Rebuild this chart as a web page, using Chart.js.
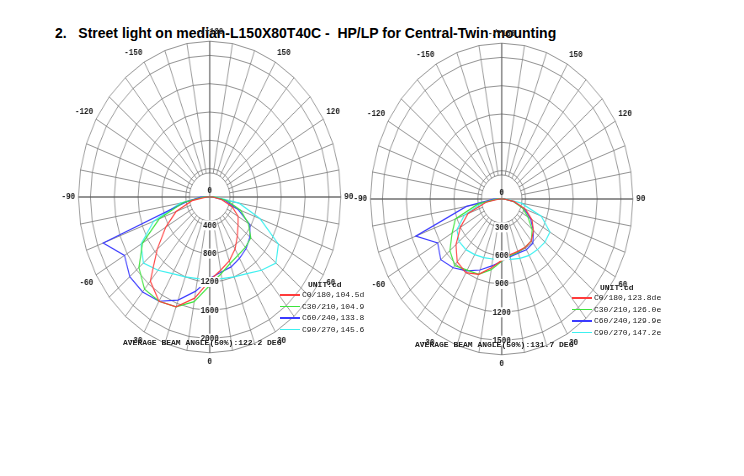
<!DOCTYPE html>
<html><head><meta charset="utf-8">
<script src="https://cdn.jsdelivr.net/npm/chart.js@4"></script>
<style>
body{margin:0;width:744px;height:476px;background:#fff;position:relative;overflow:hidden;font-family:"Liberation Mono","DejaVu Sans Mono",monospace}
#title{position:absolute;left:55px;top:25px;font:bold 14px "Liberation Sans",Arial,sans-serif;color:#000;white-space:pre}
.wrap{position:absolute;width:356px;height:356px;transform-origin:center;transform:scaleX(0.842)}
.txt{position:absolute;font-size:8px;font-weight:bold;color:#222;white-space:pre}
.leg{position:absolute;font-size:8px;color:#222;white-space:pre}
.leg i{display:inline-block;width:20px;height:1.5px;vertical-align:middle;margin-right:2px}
</style></head><body>
<div id="title">2.   Street light on median-L150X80T40C -  HP/LP for Central-Twin mounting</div>
<div class="wrap" id="w1" style="left:30px;top:20px"><canvas id="c1" width="356" height="356"></canvas></div>
<div class="wrap" id="w2" style="left:322px;top:22px"><canvas id="c2" width="356" height="356"></canvas></div>
<div class="txt" style="left:123px;top:338px">AVERAGE BEAM ANGLE(50%):122.2 DEG</div>
<div class="txt" style="left:415px;top:340px">AVERAGE BEAM ANGLE(50%):131.7 DEG</div>
<div id="legL" class="leg" style="left:280px;top:280px"></div>
<div id="legR" class="leg" style="left:572px;top:283px"></div>
<script>
// gamma angles, clockwise from the bottom (0) through the left side
const gammaLabels = ['0','-10','-20','-30','-40','-50','-60','-70','-80','-90','-100','-110','-120','-130','-140','-150','-160','-170',
  '-/+180','170','160','150','140','130','120','110','100','90','80','70','60','50','40','30','20','10'];
const shownLabels = ['0','-30','-60','-90','-120','-150','-/+180','150','120','90','60','30'];
const seriesNames = ['C0/180', 'C30/210', 'C60/240', 'C90/270'];
const seriesColors = ['#ff3b3b', '#3ce43c', '#3a3aff', '#3cf0f0'];
const legendLeft = ['C0/180,104.5d', 'C30/210,104.9', 'C60/240,133.8', 'C90/270,145.6'];
const legendRight = ['C0/180,123.8de', 'C30/210,126.0e', 'C60/240,129.9e', 'C90/270,147.2e'];

// left plot (cd), label order above
const left0   = [1180,1450,1650,1700,1550,1150,850,600,300,50, 0,0,0,0,0,0,0,0, 0, 0,0,0,0,0,0,0,0, 50,200,400,550,620,720,850,960,1050];
const left30  = [1250,1500,1650,1700,1700,1550,1300,900,450,100, 0,0,0,0,0,0,0,0, 0, 0,0,0,0,0,0,0,0, 80,300,550,750,900,930,950,1000,1100];
const left60  = [1150,1350,1550,1700,1750,1750,1650,1900,400,150, 0,0,0,0,0,0,0,0, 0, 0,0,0,0,0,0,0,0, 50,250,500,780,880,950,1000,1050,1080];
const left90  = [1155,1170,1200,1250,1350,1450,1330,1000,500,100, 0,0,0,0,0,0,0,0, 0, 0,0,0,0,0,0,0,0, 100,500,900,1330,1450,1350,1250,1200,1170];
// right plot (cd)
const right0  = [650,740,850,900,870,750,600,450,200,30, 0,0,0,0,0,0,0,0, 0, 0,0,0,0,0,0,0,0, 30,160,320,440,520,580,590,590,600];
const right30 = [660,760,850,870,920,850,720,620,300,60, 0,0,0,0,0,0,0,0, 0, 0,0,0,0,0,0,0,0, 30,150,280,380,500,580,590,600,610];
const right60 = [660,720,800,880,950,1000,930,1150,450,100, 0,0,0,0,0,0,0,0, 0, 0,0,0,0,0,0,0,0, 30,150,300,420,520,610,620,610,620];
const right90 = [640,645,660,680,700,700,650,500,250,50, 0,0,0,0,0,0,0,0, 0, 0,0,0,0,0,0,0,0, 50,250,530,700,710,700,690,670,650];

const holePlugin = {
  id: 'hole',
  beforeDatasetsDraw(chart) {
    const s = chart.scales.r, ctx = chart.ctx;
    const rad = s.getDistanceFromCenterForValue(s.ticks[1].value) * 0.85;
    ctx.save();
    ctx.fillStyle = '#fff';
    ctx.beginPath(); ctx.arc(s.xCenter, s.yCenter, rad, 0, Math.PI * 2); ctx.fill();
    ctx.strokeStyle = '#777'; ctx.lineWidth = 0.8;
    ctx.stroke();
    ctx.beginPath();
    ctx.moveTo(s.xCenter - s.drawingArea, s.yCenter); ctx.lineTo(s.xCenter + s.drawingArea, s.yCenter);
    ctx.moveTo(s.xCenter, s.yCenter - s.drawingArea); ctx.lineTo(s.xCenter, s.yCenter + s.drawingArea);
    ctx.strokeStyle = '#444'; ctx.stroke();
    ctx.restore();
  },
  afterDraw(chart) {
    // ring values along the 0 ray, drawn upright
    const s = chart.scales.r, ctx = chart.ctx, step = chart.options.scales.r.ticks.stepSize;
    ctx.save();
    ctx.font = 'bold 9px "Liberation Mono"'; ctx.textAlign = 'center'; ctx.textBaseline = 'middle';
    s.ticks.forEach(t => {
      if (t.value % step !== 0 || t.value >= s.max) return;
      const y = s.yCenter + s.getDistanceFromCenterForValue(t.value) + (t.value === 0 ? -6 : 0);
      const txt = String(t.value), w = ctx.measureText(txt).width;
      if (t.value > 0) { ctx.fillStyle = '#fff'; ctx.fillRect(s.xCenter - w / 2 - 1, y - 5, w + 2, 10); }
      ctx.fillStyle = '#222'; ctx.fillText(txt, s.xCenter, y);
    });
    ctx.restore();
  }
};

function makePolar(id, series, max, step) {
  new Chart(document.getElementById(id), {
    type: 'radar',
    data: {
      labels: gammaLabels,
      datasets: series.map((d, i) => ({
        label: seriesNames[i], data: d, borderColor: seriesColors[i], borderWidth: 1.2,
        pointRadius: 0, fill: false, tension: 0,
      })),
    },
    options: {
      responsive: false, animation: false,
      layout: { padding: 2 },
      plugins: { legend: { display: false }, tooltip: { enabled: false } },
      scales: {
        r: {
          startAngle: 180, min: 0, max: max,
          ticks: { stepSize: step, display: false },
          grid: { color: '#777', lineWidth: 0.8 },
          angleLines: { color: '#777', lineWidth: 0.8 },
          pointLabels: {
            color: '#222', padding: 4, font: { family: 'Liberation Mono', size: 9, weight: 'bold' },
            callback: l => (shownLabels.includes(l) ? l : ''),
          },
        },
      },
    },
    plugins: [holePlugin],
  });
}

makePolar('c1', [left0, left30, left60, left90], 2200, 400);
makePolar('c2', [right0, right30, right60, right90], 1650, 300);

function legend(id, texts) {
  document.getElementById(id).innerHTML = '<div style="margin-left:28px;font-weight:bold">UNIT:cd</div>' +
    texts.map((t, i) => `<div style="line-height:11.5px"><i style="background:${seriesColors[i]}"></i>${t}</div>`).join('');
}
legend('legL', legendLeft);
legend('legR', legendRight);
</script>
</body></html>
